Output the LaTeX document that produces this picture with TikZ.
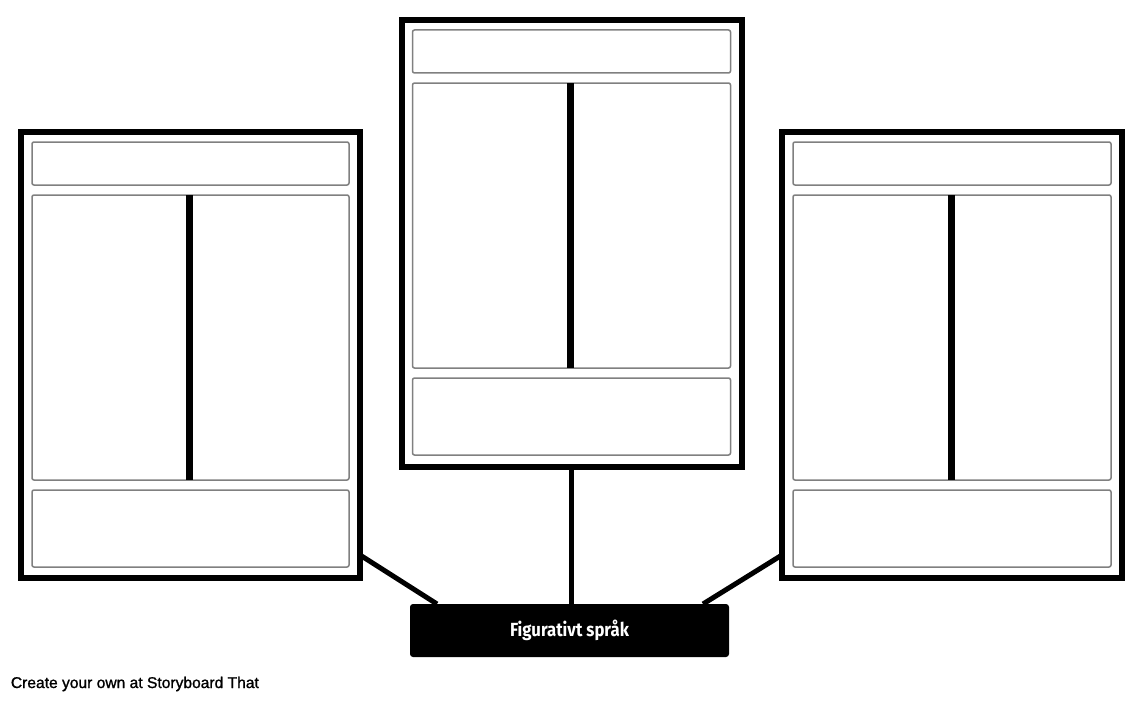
\documentclass[tikz,border=0pt]{standalone}
\usepackage{fontspec}
\setmainfont{Liberation Sans}
\newfontfamily\labelfont{Fira Sans}
\newfontfamily\footfont{Liberation Sans}[FakeBold=1.2]
\tikzset{
  panelframe/.style={draw=black, fill=white, line width=6pt, inner sep=0pt, outer sep=0pt},
  cell/.style={draw=black!50, fill=white, line width=1.5pt, rounded corners=2pt},
  divider/.style={draw=black, line width=7pt},
  conn/.style={draw=black, line width=5pt},
  labelbox/.style={fill=black, rounded corners=3pt, inner sep=0pt, outer sep=0pt, minimum width=319pt, minimum height=53pt, text=white, font=\labelfont\bfseries\fontsize{19}{22}\selectfont},
  foot/.style={inner sep=0pt, font=\footfont\fontsize{15.6}{18}\selectfont, anchor=base west}
}
\newcommand\mypanel[1]{%
  \draw[cell] ([shift={(11,10)}]#1.north west) rectangle ([shift={(-11,53)}]#1.north east);
  \draw[cell] ([shift={(11,63)}]#1.north west) rectangle ([shift={(-11,348)}]#1.north east);
  \draw[divider] ([shift={(-1,63)}]#1.north) -- ([shift={(-1,348)}]#1.north);
  \draw[cell] ([shift={(11,358)}]#1.north west) rectangle ([shift={(-11,435)}]#1.north east);
}
\begin{document}
\begin{tikzpicture}[x=1pt, y=-1pt]
  \fill[white] (0,0) rectangle (1143,701);
  \useasboundingbox (0,0) rectangle (1143,701);
  % panels
  \node[panelframe, minimum width=339pt, minimum height=446pt] (L) at (190.5,355) {};
  \node[panelframe, minimum width=340pt, minimum height=447pt] (C) at (571.5,243.5) {};
  \node[panelframe, minimum width=340pt, minimum height=446pt] (R) at (952,355) {};
  \mypanel{L}
  \mypanel{C}
  \mypanel{R}
  % label
  \node[labelbox] (lab) at (569.5,630.5) {\scalebox{0.88}[1]{Figurativt språk}};
  % connectors
  \draw[conn] ([yshift=23pt]L.south east) -- ([xshift=27pt]lab.north west);
  \draw[conn] (C.south) -- (C.south |- lab.north);
  \draw[conn] ([yshift=23pt]R.south west) -- ([xshift=-26pt]lab.north east);
  % footer
  \node[foot] (credit) at (10.7,688) {Create your own at Storyboard That};
\end{tikzpicture}
\end{document}
